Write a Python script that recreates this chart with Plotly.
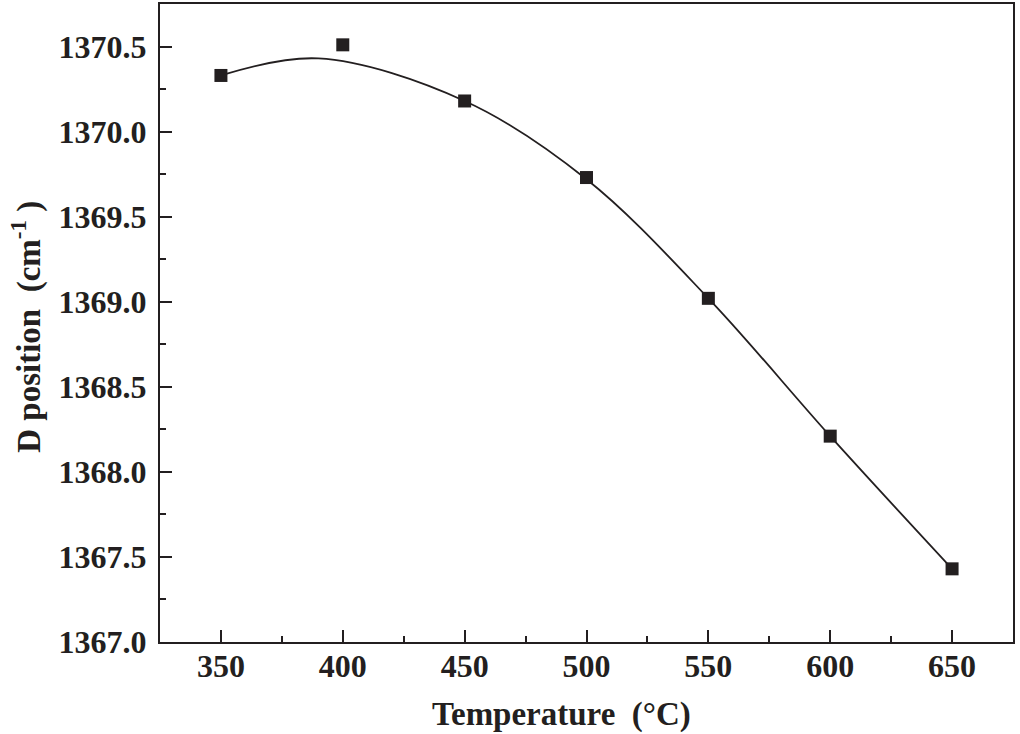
import plotly.graph_objects as go

# measured points
temperature = [350, 400, 450, 500, 550, 600, 650]
d_position = [1370.33, 1370.51, 1370.18, 1369.73, 1369.02, 1368.21, 1367.43]

# smoothed fit curve
curve_t = [350, 390, 450, 500, 550, 600, 650]
curve_d = [1370.33, 1370.43, 1370.18, 1369.72, 1369.02, 1368.21, 1367.43]

ink = "#231f20"
font = "Liberation Serif, Times New Roman, serif"
fsize = 32

fig = go.Figure()
fig.add_trace(go.Scatter(
    x=curve_t, y=curve_d, mode="lines",
    line=dict(color=ink, width=1.8, shape="spline", smoothing=1.0),
    showlegend=False, hoverinfo="skip",
))
fig.add_trace(go.Scatter(
    x=temperature, y=d_position, mode="markers",
    marker=dict(symbol="square", size=13, color=ink, line=dict(width=0)),
    showlegend=False,
))

axis_common = dict(
    showline=True, linecolor=ink, linewidth=2, mirror=True,
    ticks="inside", ticklen=12, tickwidth=2, tickcolor=ink,
    showgrid=False, zeroline=False, automargin=False,
    tickfont=dict(family=font, size=fsize, color=ink, weight="bold"),
)

fig.update_xaxes(
    range=[325, 675], tick0=350, dtick=50,
    minor=dict(ticks="inside", ticklen=6, tickwidth=2, tickcolor=ink, dtick=25, tick0=325),
    ticklabelstandoff=-5,
    **axis_common,
)
fig.update_yaxes(
    range=[1367.0, 1370.75], tick0=1367.0, dtick=0.5, tickformat=".1f",
    minor=dict(ticks="inside", ticklen=6, tickwidth=2, tickcolor=ink, dtick=0.25),
    ticklabelstandoff=5,
    **axis_common,
)

# axis titles
fig.add_annotation(
    text="<b>Temperature\u00a0\u00a0(°C)</b>", xref="paper", yref="paper",
    x=0.471, y=-0.114, xanchor="center", yanchor="middle", showarrow=False,
    font=dict(family=font, size=33, color=ink),
)
fig.add_annotation(
    text="<b>D position\u00a0\u00a0(cm<sup>-1</sup>\u00a0)</b>", xref="paper", yref="paper",
    x=-0.156, y=0.494, xanchor="center", yanchor="middle", showarrow=False,
    textangle=-90, font=dict(family=font, size=33, color=ink),
)

fig.update_layout(
    width=1020, height=734,
    margin=dict(l=160, r=7, t=4, b=92),
    plot_bgcolor="white", paper_bgcolor="white",
    font=dict(family=font, color=ink),
)

# drop the page's default body margin so the figure fills the window
fig.write_html("out.html", config={"displayModeBar": False},
               post_script="document.body.style.margin='0';")
